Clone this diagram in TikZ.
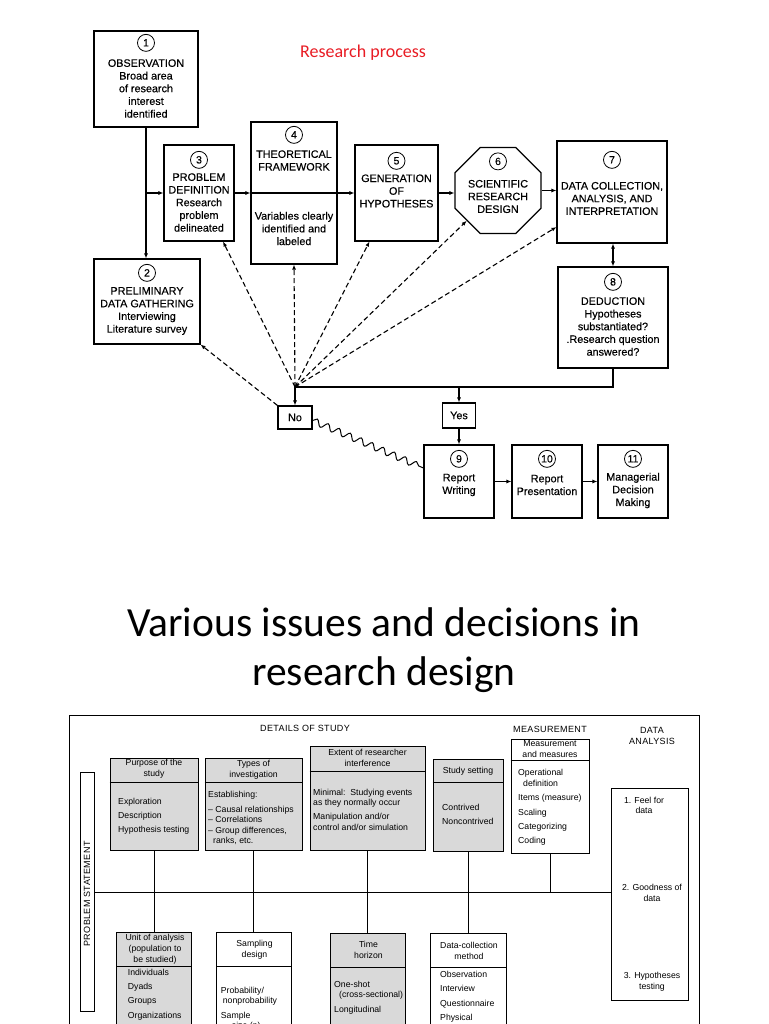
\documentclass[tikz,border=0pt]{standalone}
\usepackage{fontspec}
\setmainfont{Liberation Sans}
\newfontfamily\calibri{Carlito}
\usetikzlibrary{positioning,arrows.meta,shapes.geometric,decorations.pathmorphing}
\definecolor{titlered}{RGB}{232,28,36}
\tikzset{
box/.style 2 args={draw,line width=1.1pt,minimum width=#1,minimum height=#2,inner sep=0},
num/.style={draw,circle,line width=0.8pt,minimum size=17pt,inner sep=0,font=\fontsize{10.5}{10.5}\selectfont\addfontfeature{FakeBold=0.3}},
txt/.style={align=center,inner sep=0,font=\fontsize{10.8}{12.7}\selectfont\addfontfeature{FakeBold=0.3}},
arr/.style={line width=1.1pt,-{Latex[length=5pt,width=4pt]}},
dbl/.style={line width=1.1pt,{Latex[length=5pt,width=4pt]}-{Latex[length=5pt,width=4pt]}},
dsh/.style={arr,dash pattern=on 5pt off 3pt},
sbox/.style 2 args={draw,line width=0.8pt,minimum width=#1,minimum height=#2,inner sep=0,fill=white},
greyfill/.style={fill=black!15},
sline/.style={line width=0.8pt},
stxt/.style={align=left,anchor=north west,inner sep=0,font=\fontsize{8.7}{10.6}\selectfont},
shead/.style={align=center,inner sep=0,font=\fontsize{8.7}{10.6}\selectfont},
caps/.style={align=center,inner sep=0,font=\fontsize{9}{11}\selectfont\addfontfeature{LetterSpace=4}}
}
\begin{document}
\begin{tikzpicture}[x=1pt,y=-1pt]
\useasboundingbox (0,0) rectangle (768,1024);
\clip (0,0) rectangle (768,1024);
\node[font=\calibri\fontsize{18}{20}\selectfont,text=titlered,inner sep=0] (rp) at (363,53) {Research process};
\node[box={104pt}{96pt}] (b1) at (146,79) {};
\node[num,below=3.5pt of b1.north] (c1) {1};
\node[txt] (t1) at (146,88.5) {OBSERVATION\\Broad area\\of research\\interest\\identified};
\node[box={106pt}{85pt}] (b2) at (147,301.5) {};
\node[num,below=5.5pt of b2.north] (c2) {2};
\node[txt] (t2) at (147,311) {PRELIMINARY\\DATA GATHERING\\Interviewing\\Literature survey};
\node[box={70pt}{96pt}] (b3) at (199,193) {};
\node[num,below=6.5pt of b3.north] (c3) {3};
\node[txt] (t3) at (199,202.5) {PROBLEM\\DEFINITION\\Research\\problem\\delineated};
\node[box={86pt}{142pt}] (b4) at (294,193) {};
\node[num,below=4.5pt of b4.north] (c4) {4};
\node[txt] (t4) at (294,160.5) {THEORETICAL\\FRAMEWORK};
\node[txt] (v4) at (294,228.5) {Variables clearly\\identified and\\labeled};
\node[box={83pt}{96pt}] (b5) at (396.5,193) {};
\node[num,below=7.5pt of b5.north] (c5) {5};
\node[txt] (t5) at (396.5,191) {GENERATION\\OF\\HYPOTHESES};
\node[draw,line width=1.1pt,regular polygon,regular polygon sides=8,minimum size=93pt,inner sep=0] (b6) at (498,190.5) {};
\node[num,below=5.5pt of b6.north] (c6) {6};
\node[txt] (t6) at (498,196.5) {SCIENTIFIC\\RESEARCH\\DESIGN};
\node[box={110pt}{102pt}] (b7) at (612,192) {};
\node[num,below=10.5pt of b7.north] (c7) {7};
\node[txt] (t7) at (612,198.5) {DATA COLLECTION,\\ANALYSIS, AND\\INTERPRETATION};
\node[box={110pt}{101pt}] (b8) at (613,317.5) {};
\node[num,below=6.5pt of b8.north] (c8) {8};
\node[txt] (t8) at (613,326.5) {DEDUCTION\\Hypotheses\\substantiated?\\.Research question\\answered?};
\node[box={34pt}{23pt},txt] (no) at (295,417.5) {No};
\node[box={33pt}{25pt},txt] (yes) at (459,415.5) {Yes};
\node[box={70pt}{73pt}] (b9) at (459,481.5) {};
\node[num,below=5.5pt of b9.north] (c9) {9};
\node[txt] (t9) at (459,485) {Report\\Writing};
\node[box={70pt}{73pt}] (b10) at (547,481.5) {};
\node[num,below=5.5pt of b10.north] (c10) {10};
\node[txt] (t10) at (547,485) {Report\\Presentation};
\node[box={70pt}{73pt}] (b11) at (633,481.5) {};
\node[num,below=5.5pt of b11.north] (c11) {11};
\node[txt] (t11) at (633,490.5) {Managerial\\Decision\\Making};
\coordinate (j) at (295,387);
\draw[arr] (b1.south) -- (b1.south |- b2.north);
\draw[arr] (b1.south |- b3) -- (b3);
\draw[arr] (b3) -- (b4);
\draw[arr] (b4.west) -- (b5);
\draw[arr] (b5.east) -- (b5.east -| b6.west);
\draw[arr] (b6.east) -- (b6.east -| b7.west);
\draw[dbl] (b8.north) -- (b8.north |- b7.south);
\draw[arr] (b8.south) |- (j) -- (no);
\draw[arr] (yes |- j) -- (yes);
\draw[arr] (yes) -- (b9);
\draw[arr] (b9) -- (b10);
\draw[arr] (b10) -- (b11);
\draw[dsh] (no.north west) -- (b2.south east);
\draw[dsh] (j) -- ([xshift=24pt]b3.south);
\draw[dsh] (j) -- (b4.south);
\draw[dsh] (j) -- ([xshift=-27pt]b5.south);
\draw[dsh] (j) -- (b6);
\draw[dsh] (j) -- ([yshift=-35pt]b7.west);
\draw[line width=1pt,decorate,decoration={snake,segment length=12pt,amplitude=3.2pt}] ([yshift=-3pt]no.east) -- ([yshift=13.5pt]b9.west);
\node[font=\calibri\fontsize{41.5}{49}\selectfont,align=center,inner sep=0] (ttl) at (384,650) {Various issues and decisions in\\research design};
\node[sbox={630pt}{330pt}] (frame) at (384,880) {};
\node[caps] (ds) at (305,728) {DETAILS OF STUDY};
\node[caps] (ms) at (550,729) {MEASUREMENT};
\node[caps] (dl) at (652,735.5) {DATA\\ANALYSIS};
\node[sbox={14pt}{239pt}] (ps) at (87,891.5) {};
\node[caps,rotate=90] (pst) at (87,894) {PROBLEM STATEMENT};
\node[sbox={88pt}{92pt},greyfill] (pu) at (154,804) {};
\node[sbox={97pt}{92pt},greyfill] (ty) at (253.5,804) {};
\node[sbox={115pt}{104pt},greyfill] (ex) at (367.5,798) {};
\node[sbox={70pt}{92pt},greyfill] (st) at (468,805) {};
\node[sbox={78pt}{114pt}] (me) at (550,796) {};
\node[sbox={77pt}{212pt}] (da) at (649.5,894) {};
\node[sbox={75pt}{120pt},greyfill] (un) at (154,992) {};
\node[sbox={75pt}{120pt}] (sa) at (254,992) {};
\node[sbox={75pt}{120pt},greyfill] (ti) at (368,993) {};
\node[sbox={76pt}{120pt}] (dc) at (468.5,993) {};
\draw[sline] (pu.west |- 0,782) -- (pu.east |- 0,782);
\draw[sline] (ty.west |- 0,782) -- (ty.east |- 0,782);
\draw[sline] (ex.west |- 0,771) -- (ex.east |- 0,771);
\draw[sline] (st.west |- 0,782) -- (st.east |- 0,782);
\draw[sline] (me.west |- 0,760) -- (me.east |- 0,760);
\draw[sline] (un.west |- 0,966) -- (un.east |- 0,966);
\draw[sline] (sa.west |- 0,966) -- (sa.east |- 0,966);
\draw[sline] (ti.west |- 0,967) -- (ti.east |- 0,967);
\draw[sline] (dc.west |- 0,967) -- (dc.east |- 0,967);
\coordinate (hl) at (0,892);
\draw[sline] (ps.east |- hl) -- (da.west |- hl);
\draw[sline] (pu.south) -- (pu.south |- un.north);
\draw[sline] (ty.south) -- (ty.south |- sa.north);
\draw[sline] (ex.south) -- (ex.south |- ti.north);
\draw[sline] (st.south) -- (st.south |- dc.north);
\draw[sline] (me.south) -- (me.south |- hl);
\node[shead] (puh) at (154,768.8) {Purpose of the\\study};
\node[stxt] (pub) at (118,797.8) {Exploration\\[3.6pt]Description\\[3.6pt]Hypothesis testing};
\node[shead] (tyh) at (253.5,769.6) {Types of\\investigation};
\node[stxt] (tyb) at (208,791.1) {Establishing:\\[3.8pt]-- Causal relationships\\-- Correlations\\-- Group differences,\\\hspace*{5pt}ranks, etc.};
\node[shead] (exh) at (367.5,758) {Extent of researcher\\interference};
\node[stxt] (exb) at (313,788.5) {Minimal:\ \ Studying events\\as they normally occur\\[3.6pt]Manipulation and/or\\control and/or simulation};
\node[shead] (sth) at (468,771) {Study setting};
\node[stxt] (stb) at (442,804.1) {Contrived\\[3.2pt]Noncontrived};
\node[shead] (meh) at (550,749.2) {Measurement\\and measures};
\node[stxt] (meb) at (518,769.1) {Operational\\\hspace*{5pt}definition\\[3.8pt]Items (measure)\\[3.8pt]Scaling\\[3.8pt]Categorizing\\[3.8pt]Coding};
\node[shead] (da1) at (644,805.5) {1. Feel for\\data};
\node[shead] (da2) at (652,893) {2. Goodness of\\data};
\node[shead] (da3) at (652,982) {3. Hypotheses\\testing};
\node[shead] (unh) at (155,949.2) {Unit of analysis\\(population to\\be studied)};
\node[stxt] (unb) at (127.7,968.5) {Individuals\\[3.8pt]Dyads\\[3.8pt]Groups\\[3.8pt]Organizations};
\node[shead] (sah) at (254.5,950) {Sampling\\design};
\node[stxt] (sab) at (220.7,986.8) {Probability/\\\hspace*{2pt}nonprobability\\[3.6pt]Sample\\\hspace*{11pt}size (n)};
\node[shead] (tih) at (368.5,950) {Time\\horizon};
\node[stxt] (tib) at (334,980.8) {One-shot\\\hspace*{5pt}(cross-sectional)\\[3.6pt]Longitudinal};
\node[shead] (dch) at (469,950.8) {Data-collection\\method};
\node[stxt] (dcb) at (440,971.1) {Observation\\[3.7pt]Interview\\[3.7pt]Questionnaire\\[3.7pt]Physical};
\end{tikzpicture}
\end{document}
